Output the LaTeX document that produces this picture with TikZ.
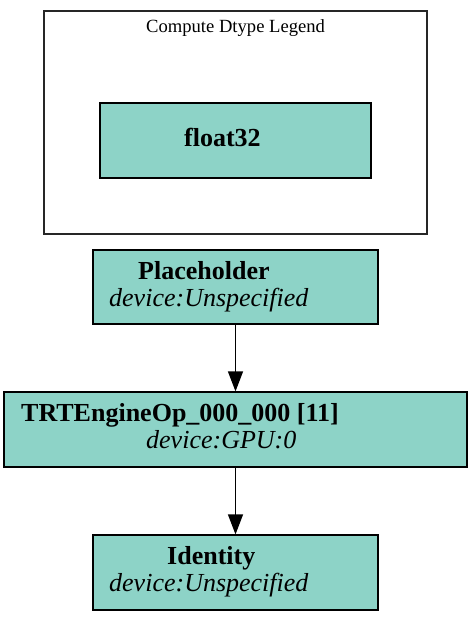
\documentclass[tikz,border=0pt]{standalone}
\usepackage{fontspec}
\setmainfont{Liberation Serif}
\usetikzlibrary{arrows.meta}
\definecolor{opfill}{HTML}{8DD3C7}
\tikzset{
  opbox/.style={draw=black, line width=1.2pt, fill=opfill, inner sep=0pt},
  legendbox/.style={draw=black!85, line width=1.2pt, fill=white, inner sep=0pt},
  optext/.style={anchor=base west, inner sep=0pt, font=\fontsize{26}{30}\selectfont},
  flow/.style={line width=1.2pt, -{Triangle[length=20pt,width=15pt]}}
}
\begin{document}
\begin{tikzpicture}[x=1pt, y=-1pt]
      \useasboundingbox (0,0) rectangle (474,623);

      % Legend frame and its entry
      \node[legendbox, minimum width=383pt, minimum height=223pt] (legend) at (235.5,122.5) {};
      \node[anchor=base west, inner sep=0pt, font=\fontsize{18.6}{22}\selectfont] (legendtitle) at (146,33) {Compute Dtype Legend};
      \node[opbox, minimum width=271pt, minimum height=75pt] (float) at (235.5,140.5) {};
      \node[optext] (floattext) at (184,146) {\textbf{float32}};

      % Op boxes
      \node[opbox, minimum width=285pt, minimum height=74pt] (placeholder) at (235.5,287) {};
      \node[opbox, minimum width=463pt, minimum height=75pt] (trt) at (235.5,429.5) {};
      \node[opbox, minimum width=285pt, minimum height=75pt] (identity) at (235.5,572.5) {};

      % Op labels
      \node[optext] (placeholdername) at (138,279) {\textbf{Placeholder}};
      \node[optext] (placeholderdev) at (109,306) {\textit{device:Unspecified}};
      \node[optext] (trtname) at (21,421) {\textbf{TRTEngineOp\_000\_000 [11]}};
      \node[optext] (trtdev) at (146,448) {\textit{device:GPU:0}};
      \node[optext] (identityname) at (167,564) {\textbf{Identity}};
      \node[optext] (identitydev) at (109,591) {\textit{device:Unspecified}};

      % Edges
      \draw[flow] (placeholder) -- (trt);
      \draw[flow] (trt) -- (identity);
    \end{tikzpicture}
\end{document}
